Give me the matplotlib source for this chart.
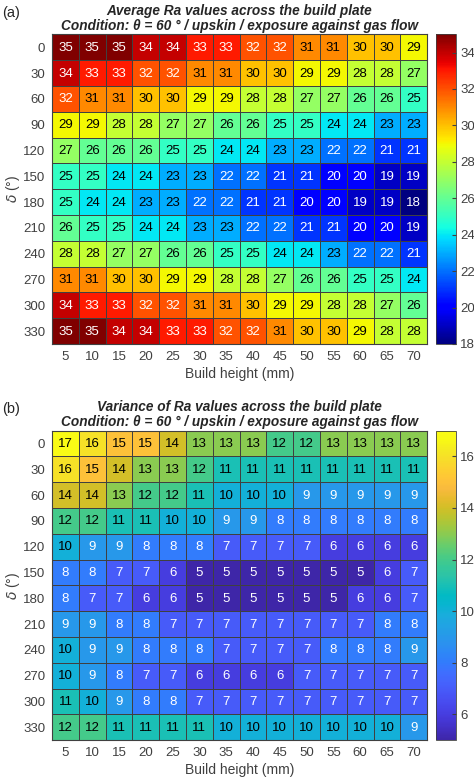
import numpy as np
import matplotlib
matplotlib.use("Agg")
import matplotlib.pyplot as plt
from matplotlib.colors import LinearSegmentedColormap

plt.rcParams['font.family'] = ['Liberation Sans', 'DejaVu Sans']

build_height = [5, 10, 15, 20, 25, 30, 35, 40, 45, 50, 55, 60, 65, 70]
delta = [0, 30, 60, 90, 120, 150, 180, 210, 240, 270, 300, 330]

avg_ra = [
    [35, 35, 35, 34, 34, 33, 33, 32, 32, 31, 31, 30, 30, 29],
    [34, 33, 33, 32, 32, 31, 31, 30, 30, 29, 29, 28, 28, 27],
    [32, 31, 31, 30, 30, 29, 29, 28, 28, 27, 27, 26, 26, 25],
    [29, 29, 28, 28, 27, 27, 26, 26, 25, 25, 24, 24, 23, 23],
    [27, 26, 26, 26, 25, 25, 24, 24, 23, 23, 22, 22, 21, 21],
    [25, 25, 24, 24, 23, 23, 22, 22, 21, 21, 20, 20, 19, 19],
    [25, 24, 24, 23, 23, 22, 22, 21, 21, 20, 20, 19, 19, 18],
    [26, 25, 25, 24, 24, 23, 23, 22, 22, 21, 21, 20, 20, 19],
    [28, 28, 27, 27, 26, 26, 25, 25, 24, 24, 23, 22, 22, 21],
    [31, 31, 30, 30, 29, 29, 28, 28, 27, 26, 26, 25, 25, 24],
    [34, 33, 33, 32, 32, 31, 31, 30, 29, 29, 28, 28, 27, 26],
    [35, 35, 34, 34, 33, 33, 32, 32, 31, 30, 30, 29, 28, 28],
]

var_ra = [
    [17, 16, 15, 15, 14, 13, 13, 13, 12, 12, 13, 13, 13, 13],
    [16, 15, 14, 13, 13, 12, 11, 11, 11, 11, 11, 11, 11, 11],
    [14, 14, 13, 12, 12, 11, 10, 10, 10, 9, 9, 9, 9, 9],
    [12, 12, 11, 11, 10, 10, 9, 9, 8, 8, 8, 8, 8, 8],
    [10, 9, 9, 8, 8, 8, 7, 7, 7, 7, 6, 6, 6, 6],
    [8, 8, 7, 7, 6, 5, 5, 5, 5, 5, 5, 5, 6, 7],
    [8, 7, 7, 6, 6, 5, 5, 5, 5, 5, 5, 6, 6, 7],
    [9, 9, 8, 8, 7, 7, 7, 7, 7, 7, 7, 7, 8, 8],
    [10, 9, 9, 8, 8, 8, 7, 7, 7, 7, 8, 8, 8, 9],
    [10, 9, 8, 7, 7, 6, 6, 6, 6, 7, 7, 7, 7, 7],
    [11, 10, 9, 8, 8, 7, 7, 7, 7, 7, 7, 7, 7, 7],
    [12, 12, 11, 11, 11, 11, 10, 10, 10, 10, 10, 10, 10, 9],
]

# MATLAB parula (every other entry of the 64 colour table)
parula = LinearSegmentedColormap.from_list("parula", [
    (0.2422, 0.1504, 0.6603), (0.2578, 0.1818, 0.7511), (0.2706, 0.2147, 0.8364),
    (0.2783, 0.2559, 0.8991), (0.2813, 0.3006, 0.9414), (0.2795, 0.3447, 0.9717),
    (0.2699, 0.3892, 0.9906), (0.2440, 0.4358, 0.9988), (0.1963, 0.4847, 0.9892),
    (0.1786, 0.5289, 0.9682), (0.1687, 0.5703, 0.9359), (0.1460, 0.6091, 0.9079),
    (0.1248, 0.6459, 0.8883), (0.0952, 0.6798, 0.8598), (0.0297, 0.7082, 0.8163),
    (0.0067, 0.7312, 0.7660), (0.0964, 0.7500, 0.7120), (0.1717, 0.7670, 0.6554),
    (0.2161, 0.7843, 0.5923), (0.2906, 0.7973, 0.5188), (0.3909, 0.8029, 0.4354),
    (0.5044, 0.7993, 0.3480), (0.6174, 0.7876, 0.2612), (0.7242, 0.7698, 0.1910),
    (0.8203, 0.7498, 0.1535), (0.9035, 0.7330, 0.1774), (0.9728, 0.7298, 0.2394),
    (0.9970, 0.7659, 0.2199), (0.9892, 0.8136, 0.1885), (0.9705, 0.8628, 0.1625),
    (0.9588, 0.9149, 0.1326), (0.9709, 0.9717, 0.0822), (0.9769, 0.9839, 0.0805),
])

TXT = "#262626"


def rel_lum(rgb):
    lin = [c / 12.92 if c <= 0.04045 else ((c + 0.055) / 1.055) ** 2.4 for c in rgb]
    return 0.2126 * lin[0] + 0.7152 * lin[1] + 0.0722 * lin[2]


def draw_heatmap(fig, ax_rect, cax_rect, data, cmap, vmin, vmax, cticks, title, tag):
    data = np.array(data)
    ax = fig.add_axes(ax_rect)
    cax = fig.add_axes(cax_rect)
    mesh = ax.pcolormesh(np.arange(len(build_height) + 1), np.arange(len(delta) + 1), data,
                         cmap=cmap, vmin=vmin, vmax=vmax, edgecolors="#404040", linewidth=0.6)
    ax.set_ylim(len(delta), 0)
    ax.set_xlim(0, len(build_height))

    for i in range(data.shape[0]):
        for j in range(data.shape[1]):
            rgb = cmap((data[i, j] - vmin) / (vmax - vmin))[:3]
            ax.text(j + 0.5, i + 0.52, str(data[i, j]), ha="center", va="center",
                    fontsize=9.5, color="white" if rel_lum(rgb) < 0.31 else "black")

    ax.set_xticks(np.arange(len(build_height)) + 0.5)
    ax.set_xticklabels(build_height)
    ax.set_yticks(np.arange(len(delta)) + 0.5)
    ax.set_yticklabels(delta)
    ax.tick_params(length=0, labelsize=9.5, labelcolor="#404040", pad=5)
    for s in ax.spines.values():
        s.set_color("#404040")
        s.set_linewidth(0.8)
    ax.set_xlabel("Build height (mm)", fontsize=10, color="#404040", labelpad=3)
    ax.set_ylabel(r"$\delta$ (°)", fontsize=10, color="#404040", labelpad=1)
    ax.set_title(title, fontsize=9.8, fontweight="bold", fontstyle="italic",
                 color=TXT, pad=3, linespacing=1.15)

    cb = fig.colorbar(mesh, cax=cax, ticks=cticks)
    cb.outline.set_edgecolor("#404040")
    cb.outline.set_linewidth(0.6)
    cax.tick_params(labelsize=9.5, labelcolor="#404040", direction="in", length=3,
                    color="#404040", pad=3)

    fig.text(0.005, ax_rect[1] + ax_rect[3] + 0.022, tag, fontsize=10.5, color=TXT)


fig = plt.figure(figsize=(4.74, 7.8), dpi=100)

draw_heatmap(fig, [0.110, 0.559, 0.791, 0.397], [0.920, 0.559, 0.042, 0.397],
             avg_ra, plt.get_cmap("jet"), 18, 35, range(18, 35, 2),
             "Average Ra values across the build plate\n"
             "Condition: θ = 60 ° / upskin / exposure against gas flow", "(a)")

draw_heatmap(fig, [0.110, 0.051, 0.791, 0.397], [0.920, 0.051, 0.042, 0.397],
             var_ra, parula, 5, 17, range(6, 17, 2),
             "Variance of Ra values across the build plate\n"
             "Condition: θ = 60 ° / upskin / exposure against gas flow", "(b)")

plt.savefig("out.png", dpi=100)
